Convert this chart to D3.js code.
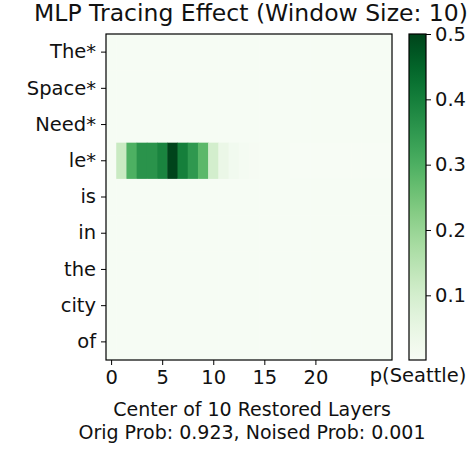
<!DOCTYPE html>
<html><head><meta charset="utf-8">
<script src="https://cdn.jsdelivr.net/npm/d3@7"></script>
<style>body{margin:0;background:#fff}text{font-family:"DejaVu Sans",sans-serif;fill:#111}</style>
</head><body><svg id="c" width="474" height="472"></svg>
<script>
const tokens = ["The*","Space*","Need*","le*","is","in","the","city","of"];
const layers = d3.range(28);
// probability values for row "le*" (others near baseline)
const leValues = [0.004,0.12,0.30,0.36,0.36,0.39,0.50,0.40,0.35,0.28,0.10,0.04,0.02,0.01,0.006,0.004,0.003,0.003,0.002,0.002,0.002,0.002,0.002,0.002,0.002,0.002,0.002,0.002];
const baseline = 0.003;
const xTicks = [0,5,10,15,20];
const cbTicks = [0.1,0.2,0.3,0.4,0.5];

const svg = d3.select("#c");
const L=106,R=392,T=34,B=360;
const x = d3.scaleBand().domain(layers).range([L,R]);
const y = d3.scaleBand().domain(tokens).range([T,B]);
const color = d3.scaleSequential(d3.interpolateGreens).domain([0.001,0.5]);
const xl = d3.scaleLinear().domain([-0.5,27.5]).range([L,R]);

const cells=[];
tokens.forEach(t=>layers.forEach(l=>cells.push({t,l,v: t==="le*"?leValues[l]:baseline})));
svg.append("g").selectAll("rect").data(cells).join("rect")
 .attr("x",d=>x(d.l)).attr("y",d=>y(d.t)).attr("width",x.bandwidth()+0.5).attr("height",y.bandwidth()+0.5)
 .attr("fill",d=>color(d.v));
svg.append("rect").attr("x",L).attr("y",T).attr("width",R-L).attr("height",B-T).attr("fill","none").attr("stroke","#000").attr("stroke-width",1.2);

const ya = svg.append("g").attr("transform",`translate(${L},0)`).call(d3.axisLeft(y).tickSize(5).tickPadding(5));
ya.select(".domain").remove();
ya.selectAll("text").style("font-size","19.5px");
const xa = svg.append("g").attr("transform",`translate(0,${B})`).call(d3.axisBottom(xl).tickValues(xTicks).tickSize(5).tickPadding(5));
xa.select(".domain").remove();
xa.selectAll("text").style("font-size","19.5px");

svg.append("text").attr("x",251).attr("y",21).attr("text-anchor","middle").style("font-size","23.5px").text("MLP Tracing Effect (Window Size: 10)");
svg.append("text").attr("x",252).attr("y",416).attr("text-anchor","middle").style("font-size","19px").text("Center of 10 Restored Layers");
svg.append("text").attr("x",252).attr("y",439).attr("text-anchor","middle").style("font-size","19px").text("Orig Prob: 0.923, Noised Prob: 0.001");

// colorbar
const cx=409,cw=17;
const cy = d3.scaleLinear().domain([0.001,0.5]).range([B,T]);
const defs=svg.append("defs");
const g=defs.append("linearGradient").attr("id","cg").attr("x1",0).attr("x2",0).attr("y1",1).attr("y2",0);
d3.range(0,1.001,0.05).forEach(s=>g.append("stop").attr("offset",s).attr("stop-color",d3.interpolateGreens(s)));
svg.append("rect").attr("x",cx).attr("y",T).attr("width",cw).attr("height",B-T).attr("fill","url(#cg)").attr("stroke","#000").attr("stroke-width",1.2);
const ca=svg.append("g").attr("transform",`translate(${cx+cw},0)`).call(d3.axisRight(cy).tickValues(cbTicks).tickFormat(d3.format(".1f")).tickSize(5).tickPadding(4));
ca.select(".domain").remove();
ca.selectAll("text").style("font-size","19.5px");
svg.append("text").attr("x",418).attr("y",382).attr("text-anchor","middle").style("font-size","19.5px").text("p(Seattle)");
</script></body></html>
